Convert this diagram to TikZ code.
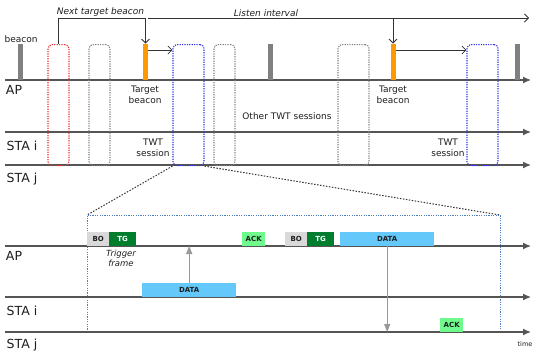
\documentclass[tikz,border=0pt]{standalone}
\usepackage{fontspec}
\setmainfont{DejaVu Sans}
\usepackage{tikz}
\usetikzlibrary{arrows.meta, positioning, calc}
\definecolor{axisgray}{RGB}{85,85,85}
\definecolor{beacongray}{RGB}{128,128,128}
\definecolor{tborange}{RGB}{255,153,0}
\definecolor{sesred}{RGB}{235,50,50}
\definecolor{sesgray}{RGB}{130,130,130}
\definecolor{sesblue}{RGB}{50,50,235}
\definecolor{zoomblue}{RGB}{80,125,195}
\definecolor{bofill}{RGB}{217,217,217}
\definecolor{tgfill}{RGB}{0,125,45}
\definecolor{ackfill}{RGB}{110,250,140}
\definecolor{datafill}{RGB}{100,200,250}
\definecolor{txtdark}{RGB}{30,30,30}
\tikzset{
  timeline/.style={line width=1.3pt, color=axisgray, -{Latex[length=8pt,width=7pt]}},
  beaconbar/.style={rectangle, fill=beacongray, minimum width=5pt,
    minimum height=36pt, inner sep=0pt, anchor=south},
  tbbar/.style={beaconbar, fill=tborange},
  session/.style={rectangle, dash pattern=on 1.2pt off 1.2pt, line width=1.1pt,
    rounded corners=4pt, minimum height=121pt, inner sep=0pt, anchor=north},
  frame/.style={rectangle, minimum height=14pt, inner sep=0pt,
    font=\fontsize{7}{8}\selectfont\bfseries, text=txtdark, anchor=south west},
  lbl/.style={font=\fontsize{12.5}{14}\selectfont, text=txtdark, inner sep=0pt},
  note/.style={font=\fontsize{9}{10.5}\selectfont, text=txtdark, align=center, inner sep=0pt},
  ptr/.style={line width=0.8pt, color=black!80, -{Straight Barb[length=4pt,width=8pt]}},
  txarrow/.style={line width=1.2pt, color=black!40, -{Triangle[length=8pt,width=6pt]}},
  zoomline/.style={dash pattern=on 1.5pt off 1.5pt, line width=1pt, color=black!80}
}
\begin{document}
\begin{tikzpicture}[x=1pt, y=-1pt]
  \useasboundingbox (0,0) rectangle (539,354);

  % Upper time axes
  \coordinate (apL) at (5,80);   \coordinate (apR) at (531,80);
  \coordinate (siL) at (5,132);  \coordinate (siR) at (531,132);
  \coordinate (sjL) at (5,165);  \coordinate (sjR) at (531,165);
  \draw[timeline] (apL) -- (apR);
  \draw[timeline] (siL) -- (siR);
  \draw[timeline] (sjL) -- (sjR);
  \node[lbl] (apLbl) at (14,90) {AP};
  \node[lbl] (siLbl) at (22,146) {STA i};
  \node[lbl] (sjLbl) at (22,179) {STA j};

  % Beacons
  \node[beaconbar] (bc1) at (20.5,80) {};
  \node[beaconbar] (bc2) at (270.5,80) {};
  \node[beaconbar] (bc3) at (517.5,80) {};
  \node[note] (bcLbl) at (21,39) {beacon};
  \node[tbbar] (tb1) at (145.5,80) {};
  \node[tbbar] (tb2) at (393,80) {};

  % TWT sessions
  \node[session, draw=sesred, minimum width=21pt] (sesR) at (58.5,44) {};
  \node[session, draw=sesgray, minimum width=21pt] (sesA) at (99.5,44) {};
  \node[session, draw=sesblue, minimum width=31pt] (sesB1) at (188.5,44) {};
  \node[session, draw=sesgray, minimum width=21pt] (sesC) at (224.5,44) {};
  \node[session, draw=sesgray, minimum width=31pt] (sesD) at (353.5,44) {};
  \node[session, draw=sesblue, minimum width=31pt] (sesB2) at (482.5,44) {};

  % Next target beacon / listen interval
  \coordinate (ntTop) at (58.5,18);
  \coordinate (liL) at (148,18);
  \coordinate (liM) at (393,18);
  \coordinate (liR) at (529,18);
  \draw[ptr] (sesR.north) -- (ntTop) -| (tb1.north);
  \draw[ptr] (liL) -- (liR);
  \draw[ptr] (liM) -- (tb2.north);
  \node[note, font=\fontsize{9}{10.5}\selectfont\itshape, anchor=south] (ntLbl) at (100.5,17) {Next target beacon};
  \node[note, font=\fontsize{9}{10.5}\selectfont\itshape, anchor=south] (liLbl) at (266,17) {Listen interval};
  \draw[ptr] (tb1.east |- 0,50) -- (sesB1.west |- 0,50);
  \draw[ptr] (tb2.east |- 0,50) -- (sesB2.west |- 0,50);

  % Upper notes
  \node[note] (tbLbl1) at (145,95) {Target\\beacon};
  \node[note] (tbLbl2) at (393,95) {Target\\beacon};
  \node[note] (othLbl) at (287,116) {Other TWT sessions};
  \node[note] (twtLbl1) at (153,148) {TWT\\session};
  \node[note] (twtLbl2) at (448,148) {TWT\\session};

  % Zoom of the TWT session
  \coordinate (zmTL) at (87,215);
  \coordinate (zmTR) at (500,215);
  \coordinate (zmBL) at (87,332);
  \coordinate (zmBR) at (500,332);
  \draw[zoomline] (sesB1.south west) -- (zmTL);
  \draw[zoomline] (sesB1.south east) -- (zmTR);
  \draw[dash pattern=on 1.2pt off 1.2pt, line width=1pt, color=zoomblue] (zmBL) -- (zmTL) -- (zmTR) -- (zmBR);

  % Lower time axes
  \coordinate (apL2) at (5,246);  \coordinate (apR2) at (531,246);
  \coordinate (siL2) at (5,297);  \coordinate (siR2) at (531,297);
  \coordinate (sjL2) at (5,332);  \coordinate (sjR2) at (531,332);
  \draw[timeline] (apL2) -- (apR2);
  \draw[timeline] (siL2) -- (siR2);
  \draw[timeline] (sjL2) -- (sjR2);
  \node[lbl] (apLbl2) at (14,256) {AP};
  \node[lbl] (siLbl2) at (22,311) {STA i};
  \node[lbl] (sjLbl2) at (22,345) {STA j};
  \node[note, font=\fontsize{6.5}{8}\selectfont] (timeLbl) at (525,344) {time};

  % Frames
  \node[frame, fill=bofill, minimum width=22pt] (bo1) at (87,246) {BO};
  \node[frame, fill=tgfill, text=white, minimum width=27pt] (tg1) at (109,246) {TG};
  \node[note, font=\fontsize{8.5}{10}\selectfont\itshape] (trgLbl) at (121,258) {Trigger\\frame};
  \node[frame, fill=ackfill, minimum width=23pt] (ack1) at (242,246) {ACK};
  \node[frame, fill=datafill, minimum width=94pt] (data1) at (142,297) {DATA};
  \node[frame, fill=bofill, minimum width=22pt] (bo2) at (285,246) {BO};
  \node[frame, fill=tgfill, text=white, minimum width=27pt] (tg2) at (307,246) {TG};
  \node[frame, fill=datafill, minimum width=94pt] (data2) at (340,246) {DATA};
  \node[frame, fill=ackfill, minimum width=23pt] (ack2) at (440,332) {ACK};

  % Transmissions
  \draw[txarrow] (data1.north) -- (data1.north |- apL2);
  \draw[txarrow] (data2.south) -- (data2.south |- sjL2);
\end{tikzpicture}
\end{document}
